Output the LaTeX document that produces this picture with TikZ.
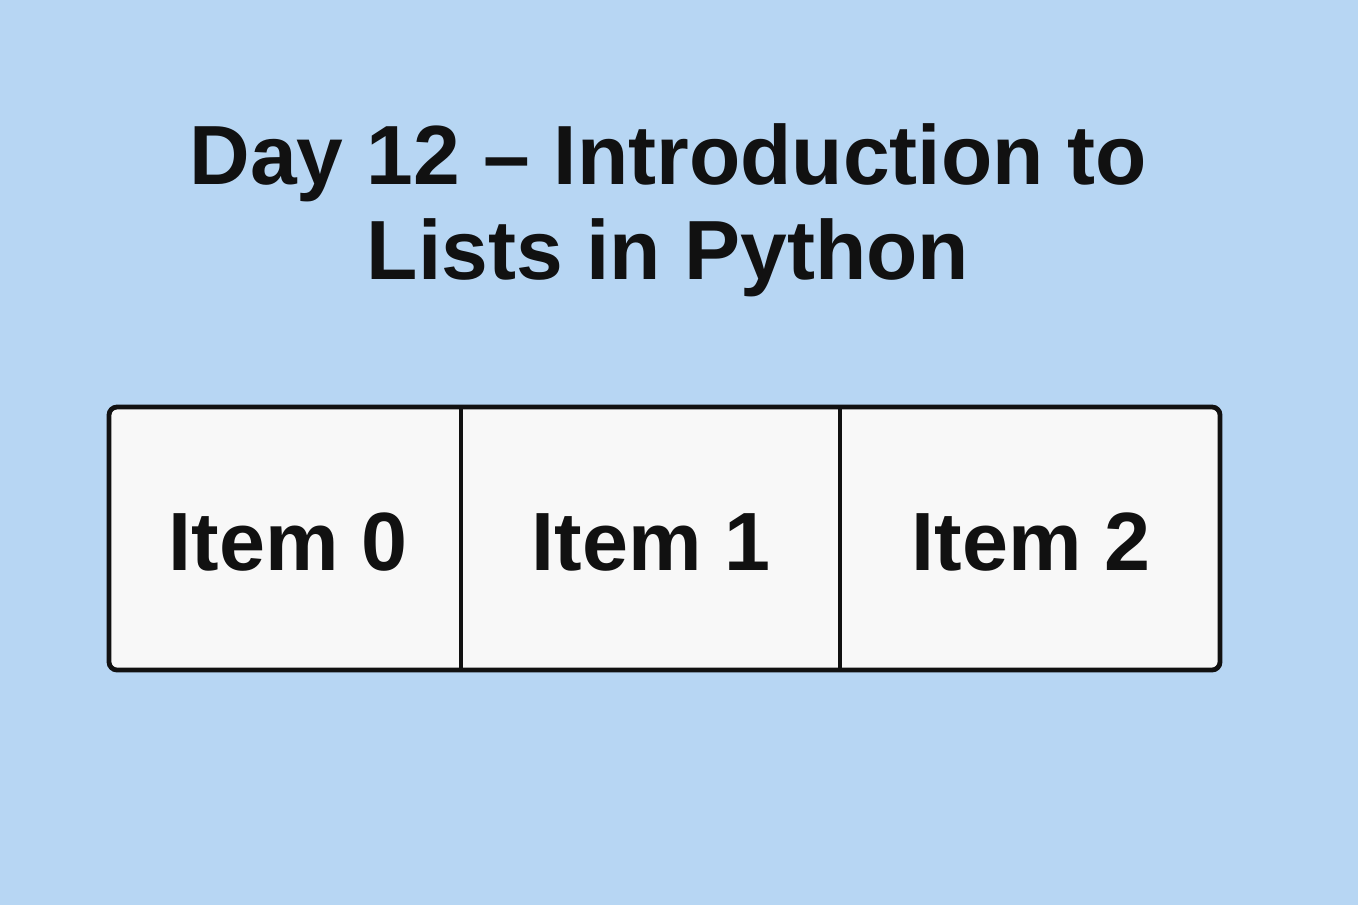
\documentclass[tikz,border=0pt]{standalone}
\usepackage{fontspec}
\setmainfont{Liberation Sans}
\definecolor{bgblue}{HTML}{B7D6F3}
\definecolor{cellfill}{HTML}{F8F8F8}
\definecolor{ink}{HTML}{111111}
\begin{document}
\begin{tikzpicture}[x=0.75pt,y=-0.75pt,
  titletext/.style={font=\bfseries\fontsize{63}{71}\selectfont, text=ink, align=center, anchor=base},
  itemtext/.style={font=\bfseries\fontsize{62}{70}\selectfont, text=ink, anchor=base},
  frame/.style={draw=ink, line width=3.6pt, rounded corners=6pt, fill=cellfill},
  divider/.style={draw=ink, line width=2.8pt}]
\fill[bgblue] (0,0) rectangle (1358,905);
\useasboundingbox (0,0) rectangle (1358,905);
\node[titletext] (t1) at (668,185) {Day 12 – Introduction to};
\node[titletext] (t2) at (668,280) {Lists in Python};
\draw[frame] (109,407) rectangle (1220,670);
\coordinate (d1t) at (461,407);
\coordinate (d1b) at (461,670);
\coordinate (d2t) at (840,407);
\coordinate (d2b) at (840,670);
\draw[divider] (d1t) -- (d1b);
\draw[divider] (d2t) -- (d2b);
\node[itemtext] (i0) at (288,570) {Item 0};
\node[itemtext] (i1) at (651,570) {Item 1};
\node[itemtext] (i2) at (1031,570) {Item 2};
\end{tikzpicture}
\end{document}
